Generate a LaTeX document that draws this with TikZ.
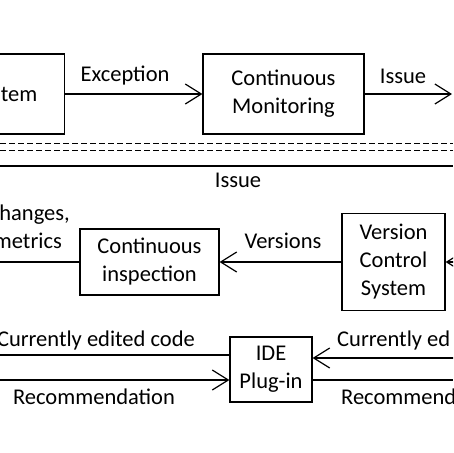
\documentclass[tikz,border=0pt]{standalone}
\usepackage{fontspec}
\setmainfont{Carlito}
\usetikzlibrary{positioning}
\usetikzlibrary{arrows.meta}
\tikzset{box/.style = {rectangle, draw=black, line width=1.2pt, text centered, align=center, inner sep=0pt},
    arrow/.style = {line width=1.2pt, -{Straight Barb[length=16pt,width=20pt,line width=1.2pt]}},
    plain/.style = {line width=1.2pt},
    lbl/.style = {inner sep=0pt}}

\begin{document}
\begin{tikzpicture}[x=1pt,y=-1pt,font=\fontsize{22.5}{28}\selectfont]

\useasboundingbox (0,0) rectangle (453,453);
\clip (0,0) rectangle (453,453);

\node (sys) [box, anchor=east, minimum height=80pt, text width=100pt, align=right, inner xsep=27pt] at (65,94) {tem};
\node (mon) [box, minimum width=161pt, minimum height=80pt] at (283.5,94) {Continuous\\Monitoring};
\coordinate (issueout) at (452,94);

\node (exc) [lbl] at (125,76) {Exception};
\node (iss) [lbl] at (403,76) {Issue};

%separator
\coordinate (dashAl) at (0,143.5);
\coordinate (dashAr) at (453,143.5);
\coordinate (dashBl) at (0,150.5);
\coordinate (dashBr) at (453,150.5);
\coordinate (solidl) at (0,166);
\coordinate (solidr) at (453,166);
\node (issb) [lbl] at (238,180) {Issue};

\node (insp) [box, minimum width=139pt, minimum height=66pt] at (149.5,262) {Continuous\\inspection};
\node (vcs) [box, minimum width=103pt, minimum height=97pt] at (393.5,262) {Version\\Control\\System};
\coordinate (inspout) at (0,262);
\coordinate (vcsin) at (490,262);

\node (chg) [lbl, anchor=east] at (70,215) {hanges,};
\node (met) [lbl, anchor=east] at (62,241) {metrics};
\node (ver) [lbl] at (283,241) {Versions};

\node (ide) [box, minimum width=82pt, minimum height=65pt] at (271,369.5) {IDE\\Plug-in};
\coordinate (codel) at (0,355);
\coordinate (recl) at (0,380);
\coordinate (coder) at (470,358);
\coordinate (recr) at (453,380);

\node (cec) [lbl, anchor=east] at (195,340) {Currently edited code};
\node (rec) [lbl] at (94,397) {Recommendation};
\node (cer) [lbl, anchor=west] at (337,340) {Currently ed};
\node (recb) [lbl, anchor=west] at (341,397) {Recommend};

\draw [arrow] (sys) -- (mon);
\draw [arrow] (mon) -- (issueout);
\draw [plain, dashed, dash pattern=on 6pt off 3pt, line width=1pt] (dashAl) -- (dashAr);
\draw [plain, dashed, dash pattern=on 6pt off 3pt, line width=1pt] (dashBl) -- (dashBr);
\draw [plain] (solidl) -- (solidr);
\draw [arrow] (vcs) -- (insp);
\draw [plain] (insp) -- (inspout);
\draw [arrow] (vcsin) -- (vcs);
\draw [plain] (ide.west |- codel) -- (codel);
\draw [arrow] (recl) -- (ide.west |- recl);
\draw [arrow] (coder) -- (ide.east |- coder);
\draw [plain] (ide.east |- recr) -- (recr);

\end{tikzpicture}
\end{document}
